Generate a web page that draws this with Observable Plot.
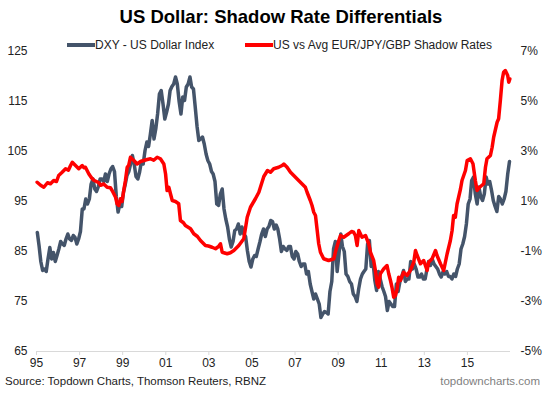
<!DOCTYPE html>
<html>
<head>
<meta charset="utf-8">
<script src="https://cdn.jsdelivr.net/npm/d3@7"></script>
<script src="https://cdn.jsdelivr.net/npm/@observablehq/plot@0.6"></script>
<style>
  html, body { margin: 0; padding: 0; background: #fff; }
  #wrap { position: relative; width: 558px; height: 399px; overflow: hidden; font-family: "Liberation Sans", Arial, sans-serif; color: #000; }
  #chart { position: absolute; left: 0; top: 0; }
  .title { position: absolute; left: 0; width: 562px; top: 7px; line-height: 20px; text-align: center; font-weight: bold; font-size: 18.5px; }
  .leg { position: absolute; top: 38px; line-height: 14px; font-size: 12px; color: #222; white-space: nowrap; }
  .sw { display: inline-block; width: 28px; height: 3.5px; vertical-align: middle; margin-right: 0px; position: relative; top: -1px; }
  .src { position: absolute; left: 5px; top: 374px; font-size: 11.5px; line-height: 14px; color: #222; }
  .brand { position: absolute; right: 18px; top: 374px; font-size: 11.5px; line-height: 14px; color: #7f7f7f; }
</style>
</head>
<body>
<div id="wrap">
  <div id="chart"></div>
  <div class="title">US Dollar: Shadow Rate Differentials</div>
  <div class="leg" style="left:67px"><span class="sw" style="background:#44546A"></span>DXY - US Dollar Index</div>
  <div class="leg" style="left:245px"><span class="sw" style="background:#FF0000"></span>US vs Avg EUR/JPY/GBP Shadow Rates</div>
  <div class="src">Source: Topdown Charts, Thomson Reuters, RBNZ</div>
  <div class="brand">topdowncharts.com</div>
</div>
<script>
// ---- Data ----
// DXY - US Dollar Index, monthly from Jan 1995 to Dec 2016
const dxyStartYear = 1995;
const dxyValues = [
  88.8, 86.0, 83.0, 81.2, 81.5, 81.0, 83.5, 85.8, 83.5, 84.8, 83.0, 84.2, // 1995
  85.5, 87.0, 86.5, 86.2, 87.5, 88.5, 87.5, 87.2, 88.2, 87.8, 86.5, 87.5, // 1996
  89.0, 93.5, 93.5, 95.5, 94.5, 95.5, 98.5, 99.5, 97.5, 97.0, 98.0, 99.5, // 1997
  99.5, 99.0, 100.5, 99.0, 100.5, 101.5, 102.0, 101.0, 96.0, 92.9, 94.5, 94.0, // 1998
  96.9, 98.5, 100.2, 101.0, 102.5, 104.2, 102.5, 100.0, 99.5, 100.9, 103.0, 102.5, // 1999
  105.2, 106.9, 106.0, 108.5, 111.2, 107.5, 109.5, 112.5, 116.5, 117.2, 114.5, 111.5, // 2000
  112.9, 114.5, 117.2, 118.0, 118.5, 119.9, 118.5, 115.0, 112.5, 115.9, 115.2, 117.9, // 2001
  118.5, 119.9, 117.9, 117.5, 113.9, 110.0, 107.2, 107.5, 107.9, 106.5, 104.5, 103.2, // 2002
  102.5, 101.0, 100.5, 99.0, 94.5, 94.2, 96.5, 97.5, 93.5, 91.5, 89.9, 87.5, // 2003
  85.9, 87.0, 89.2, 89.5, 90.5, 88.5, 89.9, 88.5, 88.0, 85.2, 83.0, 81.9, // 2004
  83.5, 84.2, 84.0, 85.5, 86.9, 88.5, 89.5, 88.0, 89.5, 90.0, 91.2, 91.0, // 2005
  89.5, 90.3, 89.5, 87.5, 85.0, 86.0, 85.5, 85.2, 86.0, 86.0, 84.0, 83.5, // 2006
  85.0, 84.5, 83.0, 82.0, 82.5, 82.5, 80.5, 81.0, 78.5, 77.0, 75.5, 76.5, // 2007
  75.5, 74.5, 71.8, 72.5, 73.0, 72.8, 72.5, 77.0, 79.0, 85.5, 87.0, 81.0, // 2008
  84.5, 88.5, 86.0, 85.0, 80.5, 80.0, 79.0, 78.5, 76.5, 76.0, 75.0, 77.5, // 2009
  79.5, 80.5, 81.0, 81.5, 86.5, 87.2, 82.0, 83.0, 79.2, 77.2, 81.0, 79.5, // 2010
  78.0, 77.0, 76.0, 73.2, 75.0, 74.5, 74.0, 74.0, 78.5, 77.0, 79.0, 80.0, // 2011
  81.2, 79.0, 79.5, 79.5, 83.0, 81.5, 82.5, 81.5, 79.9, 79.9, 80.5, 79.5, // 2012
  79.5, 81.5, 83.0, 82.2, 83.5, 82.5, 82.0, 81.5, 80.5, 79.9, 81.0, 80.5, // 2013
  81.0, 80.0, 80.0, 79.5, 80.5, 80.0, 81.5, 82.5, 85.5, 86.5, 88.0, 90.5, // 2014
  94.5, 95.5, 99.2, 99.9, 96.5, 94.5, 97.9, 96.0, 95.2, 96.5, 99.9, 98.5, // 2015
  99.0, 97.2, 95.2, 94.0, 93.0, 96.0, 95.5, 94.5, 95.5, 97.0, 100.5, 103.0  // 2016
];

// US vs Avg EUR/JPY/GBP shadow rate differential (%), read at these decimal years
const spreadYears = [
  1995.03, 1995.19, 1995.34, 1995.51, 1995.65, 1995.80, 1995.93,
  1996.03, 1996.19, 1996.35, 1996.48, 1996.58, 1996.66, 1996.74, 1996.81, 1996.96,
  1997.12, 1997.20, 1997.27, 1997.43, 1997.55, 1997.66, 1997.78, 1997.89, 1997.97,
  1998.12, 1998.28, 1998.43, 1998.51, 1998.67, 1998.74, 1998.82, 1998.90, 1998.97,
  1999.05, 1999.13, 1999.21, 1999.28, 1999.36, 1999.44, 1999.52, 1999.67, 1999.83, 1999.98,
  2000.14, 2000.29, 2000.44, 2000.60, 2000.75, 2000.91, 2000.99,
  2001.06, 2001.14, 2001.22, 2001.30, 2001.45, 2001.60, 2001.68, 2001.82, 2001.91,
  2002.15, 2002.30, 2002.47, 2002.61, 2002.84, 2002.98,
  2003.15, 2003.31, 2003.45, 2003.54, 2003.62, 2003.85,
  2004.00, 2004.16, 2004.39, 2004.62, 2004.78, 2004.93,
  2005.16, 2005.32, 2005.44, 2005.55, 2005.72, 2005.86,
  2006.01, 2006.24, 2006.40, 2006.48, 2006.63, 2006.79, 2006.94,
  2007.10, 2007.33, 2007.48, 2007.56, 2007.71, 2007.79, 2007.87, 2007.95,
  2008.03, 2008.10, 2008.18, 2008.33, 2008.56, 2008.80, 2008.87,
  2009.03, 2009.11, 2009.26, 2009.39, 2009.49, 2009.62, 2009.72, 2009.80, 2009.88, 2009.96,
  2010.11, 2010.27, 2010.42, 2010.50, 2010.65, 2010.73, 2010.81, 2010.88, 2010.96,
  2011.12, 2011.27, 2011.35, 2011.43, 2011.50, 2011.58, 2011.66, 2011.74, 2011.81, 2011.89,
  2012.04, 2012.20, 2012.35, 2012.51, 2012.59, 2012.67, 2012.82, 2012.97,
  2013.13, 2013.20, 2013.36, 2013.52, 2013.59, 2013.75, 2013.90,
  2014.06, 2014.21, 2014.29, 2014.36, 2014.44, 2014.52, 2014.68, 2014.75, 2014.91, 2014.99,
  2015.14, 2015.26, 2015.37, 2015.45, 2015.57, 2015.76, 2015.84, 2015.91,
  2016.07, 2016.15, 2016.22, 2016.38, 2016.45, 2016.53, 2016.61, 2016.68, 2016.76, 2016.87, 2016.92, 2016.97
];
const spreadValues = [
  1.77, 1.65, 1.57, 1.75, 1.71, 1.84, 1.80,
  2.04, 2.17, 2.31, 2.25, 2.44, 2.57, 2.50, 2.44, 2.31,
  2.44, 2.35, 2.37, 2.10, 1.95, 1.85, 1.80, 1.75, 1.65,
  1.70, 1.57, 1.55, 1.44, 1.17, 0.91, 0.84, 1.11, 1.00,
  1.44, 1.85, 2.37, 2.45, 2.77, 2.70, 2.64, 2.50, 2.60, 2.64,
  2.68, 2.71, 2.65, 2.77, 2.71, 2.50, 2.10,
  1.44, 1.57, 1.30, 1.04, 1.00, 0.91, 0.24, 0.15, 0.04,
  -0.09, -0.29, -0.40, -0.56, -0.76, -0.78,
  -0.83, -0.89, -0.80, -0.69, -1.03, -1.09,
  -1.05, -0.96, -0.76, -0.49, 0.37, 0.77,
  1.11, 1.37, 1.70, 2.00, 2.24, 2.17,
  2.31, 2.37, 2.44, 2.50, 2.37, 2.17, 2.04,
  1.90, 1.70, 1.57, 1.37, 1.04, 0.84, 0.57, 0.44,
  -0.16, -0.69, -1.03, -1.29, -1.36, -1.29, -1.03,
  -0.56, -0.36, -0.43, -0.35, -0.29, -0.20, -0.23, -0.36, -0.76, -0.16,
  -0.43, -0.36, -0.69, -1.03, -1.36, -1.76, -2.29, -2.43, -1.89,
  -1.69, -1.56, -1.89, -2.16, -2.43, -2.83, -2.76, -2.49, -2.03, -2.16,
  -1.83, -1.96, -1.76, -1.43, -0.96, -1.16, -1.49, -1.36,
  -1.76, -1.43, -1.29, -0.96, -1.16, -1.49, -1.76,
  -1.09, -0.56, -0.16, 0.44, 0.37, 0.90, 1.50, 1.84, 2.24, 2.64,
  2.71, 2.51, 1.84, 1.44, 1.57, 1.71, 2.37, 2.71,
  2.84, 3.17, 3.57, 4.17, 4.31, 5.04, 5.84, 6.17, 6.24, 6.04, 5.77, 5.90
];

const leftTicks = [65, 75, 85, 95, 105, 115, 125];
const rightTicks = [-5, -3, -1, 1, 3, 5, 7];
const xTickYears = [1995, 1997, 1999, 2001, 2003, 2005, 2007, 2009, 2011, 2013, 2015];

// ---- Helpers ----
const toLeft = p => 65 + (p + 5) * 5;          // right-axis % -> left-axis units
const fromLeft = v => (v - 65) / 5 - 5;
const decToDate = t => {
  const y = Math.floor(t);
  const start = Date.UTC(y, 0, 1), end = Date.UTC(y + 1, 0, 1);
  return new Date(start + (t - y) * (end - start));
};

const dxyData = dxyValues.map((v, i) => ({date: new Date(Date.UTC(dxyStartYear, i, 15)), value: v}));
const spreadData = spreadYears.map((t, i) => ({date: decToDate(t), value: spreadValues[i]}));

const chart = Plot.plot({
  width: 558,
  height: 399,
  marginLeft: 36,
  marginRight: 48,
  marginTop: 51,
  marginBottom: 48,
  style: {fontFamily: "'Liberation Sans', Arial, sans-serif", fontSize: "12px", color: "#222", background: "#fff"},
  x: {type: "utc", domain: [new Date(Date.UTC(1995, 0, 1)), new Date(Date.UTC(2017, 0, 1))]},
  y: {domain: [65, 125]},
  marks: [
    Plot.ruleY([65], {stroke: "#d9d9d9", strokeWidth: 1}),
    Plot.axisX({
      ticks: xTickYears.map(y => new Date(Date.UTC(y, 0, 1))),
      tickFormat: d => d3.utcFormat("%y")(d),
      tickSize: 4, tickPadding: 3, stroke: "#d9d9d9", fill: "#222", fontSize: 12, label: null
    }),
    Plot.axisY({anchor: "left", ticks: leftTicks, tickSize: 0, tickPadding: 9, fill: "#222", fontSize: 12, label: null}),
    Plot.axisY({
      anchor: "right", ticks: rightTicks.map(toLeft),
      tickFormat: d => `${Math.round(fromLeft(d))}%`,
      tickSize: 0, tickPadding: 10, fill: "#222", fontSize: 12, label: null
    }),
    Plot.line(dxyData, {x: "date", y: "value", stroke: "#44546A", strokeWidth: 3.5}),
    Plot.line(spreadData, {x: "date", y: d => toLeft(d.value), stroke: "#FF0000", strokeWidth: 3.5})
  ]
});
document.getElementById("chart").appendChild(chart);
</script>
</body>
</html>
